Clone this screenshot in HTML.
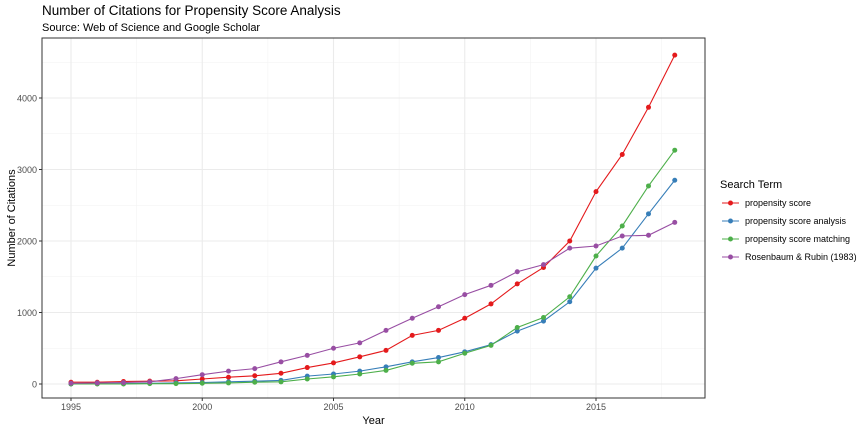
<!DOCTYPE html>
<html><head><meta charset="utf-8"><style>
body{margin:0;background:#fff;font-family:"Liberation Sans",sans-serif}
svg text{font-family:"Liberation Sans",sans-serif}
</style></head><body>
<svg id="c" width="864" height="432"></svg>
<script>
const years=[1995,1996,1997,1998,1999,2000,2001,2002,2003,2004,2005,2006,2007,2008,2009,2010,2011,2012,2013,2014,2015,2016,2017,2018];
const psValues=[25,25,35,40,45,70,95,115,150,230,295,380,470,680,750,920,1120,1400,1630,2000,2690,3210,3870,4600];
const psaValues=[0,5,5,10,15,20,30,40,50,110,140,180,240,310,370,450,550,740,880,1150,1620,1900,2380,2850];
const psmValues=[0,0,0,5,5,10,15,25,30,70,100,140,190,290,310,430,540,790,930,1220,1790,2210,2770,3270];
const rrValues=[10,15,20,30,75,130,180,215,310,400,500,575,750,920,1080,1250,1380,1570,1670,1900,1930,2070,2080,2260];
const xTicks=[1995,2000,2005,2010,2015];
const yTicks=[0,1000,2000,3000,4000];
const seriesNames=["propensity score","propensity score analysis","propensity score matching","Rosenbaum & Rubin (1983)"];
const colors=["#e41a1c","#377eb8","#4daf4a","#984ea3"];
const NS="http://www.w3.org/2000/svg";
const svg=document.getElementById('c');
const L=42,R=705,T=38,B=398;
const xs=v=>71+(v-1995)*(596-71)/20;
const ys=v=>384-v*(384-98)/4000;
function mk(t,a,p){const e=document.createElementNS(NS,t);for(const k in a)e.setAttribute(k,a[k]);(p||svg).appendChild(e);return e;}
// minor grid
for(let y=500;y<4700;y+=1000){const l=mk('line',{x1:L,x2:R,y1:ys(y),y2:ys(y),stroke:'#f2f2f2','stroke-width':0.6});

}
for(let x=1997.5;x<2020;x+=5){const l=mk('line',{x1:xs(x),x2:xs(x),y1:T,y2:B,stroke:'#f2f2f2','stroke-width':0.6});

}
yTicks.forEach(v=>{const l=mk('line',{x1:L,x2:R,y1:ys(v),y2:ys(v),stroke:'#ebebeb','stroke-width':1.1});


mk('line',{x1:L-3,x2:L,y1:ys(v),y2:ys(v),stroke:'#333'});
const t=mk('text',{x:L-5,y:ys(v)+3.5,'text-anchor':'end','font-size':9,fill:'#4d4d4d'});t.textContent=v;

});
xTicks.forEach(v=>{const l=mk('line',{x1:xs(v),x2:xs(v),y1:T,y2:B,stroke:'#ebebeb','stroke-width':1.1});


mk('line',{x1:xs(v),x2:xs(v),y1:B,y2:B+3,stroke:'#333'});
const t=mk('text',{x:xs(v),y:B+12,'text-anchor':'middle','font-size':9,fill:'#4d4d4d'});t.textContent=v;

});
const all=[psValues,psaValues,psmValues,rrValues];
all.forEach((vals,i)=>{const g=mk('g',{});


mk('polyline',{points:vals.map((v,j)=>xs(years[j])+','+ys(v)).join(' '),fill:'none',stroke:colors[i],'stroke-width':1.1},g);
vals.forEach((v,j)=>{const c=mk('circle',{cx:xs(years[j]),cy:ys(v),r:2.5,fill:colors[i]},g);

});});
const fr=mk('rect',{x:L,y:T,width:R-L,height:B-T,fill:'none',stroke:'#333','stroke-width':1});


function txt(s,a,name){const t=mk('text',a);t.textContent=s;

return t;}
txt('Number of Citations for Propensity Score Analysis',{x:42,y:15,'font-size':13.5,fill:'#000'},'chart-title');
txt('Source: Web of Science and Google Scholar',{x:42,y:31,'font-size':11,fill:'#000'},'chart-subtitle');
txt('Year',{x:(L+R)/2,y:424,'font-size':11,'text-anchor':'middle'},'x-axis-title');
txt('Number of Citations',{x:0,y:0,'font-size':11,'text-anchor':'middle',transform:'translate(15,218) rotate(-90)'},'y-axis-title');
txt('Search Term',{x:720,y:188,'font-size':11},'legend-title');
seriesNames.forEach((n,i)=>{const y=203+i*18;const g=mk('g',{});


mk('line',{x1:722,x2:739,y1:y,y2:y,stroke:colors[i],'stroke-width':1.1},g);
mk('circle',{cx:730.5,cy:y,r:2.5,fill:colors[i]},g);
const t=mk('text',{x:745,y:y+3,'font-size':9},g);t.textContent=n;});
</script>
</body></html>
